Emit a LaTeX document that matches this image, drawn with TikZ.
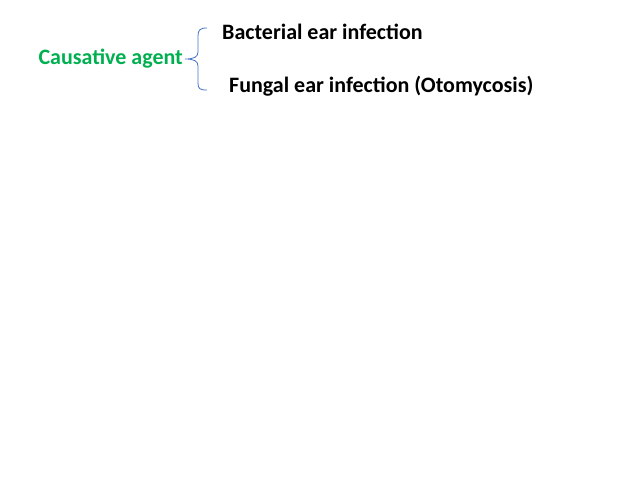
\documentclass[tikz,border=0pt]{standalone}
\usepackage{fontspec}
\setmainfont[Contextuals=NoAlternate]{Carlito}
\definecolor{agentgreen}{RGB}{0,176,80}
\definecolor{bracecol}{RGB}{68,114,196}
\begin{document}
\begin{tikzpicture}[x=1pt,y=-1pt,
  lbl/.style={font=\fontsize{22}{24}\selectfont\bfseries, inner sep=0pt}]
\useasboundingbox (0,0) rectangle (638,478);
\node[lbl, text=agentgreen, anchor=east] (agent) at (183,59) {Causative agent};
\node[lbl, anchor=west] (bact) at (222,32) {Bacterial ear infection};
\node[lbl, anchor=west] (fung) at (229,86) {Fungal ear infection (Otomycosis)};
\coordinate (tip) at (185,59);
\draw[bracecol, line width=0.8pt] (207,28) .. controls (200,28) and (198,30) .. (198,36)
  -- (198,52) .. controls (198,57) and (194,59) .. (tip)
  .. controls (194,59) and (198,61) .. (198,66)
  -- (198,83) .. controls (198,89) and (200,90) .. (207,90);
\end{tikzpicture}
\end{document}
